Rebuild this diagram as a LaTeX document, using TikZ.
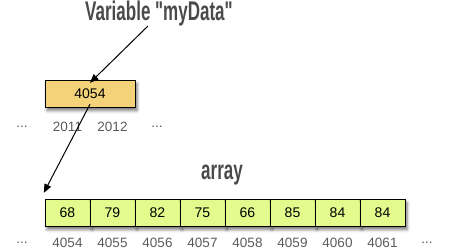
\documentclass[tikz,border=0pt]{standalone}
\usepackage{fontspec}
\setmainfont{Liberation Sans}
\newfontfamily\titlefont{Liberation Sans}[Ligatures=ResetAll]
\usepackage{tikz}
\usetikzlibrary{arrows,shadows.blur}
\definecolor{ptrfill}{HTML}{F4D27A}
\definecolor{cellfill}{HTML}{E2FB8C}
\definecolor{labgray}{HTML}{4A4A4A}
\definecolor{addrgray}{HTML}{5A5A5A}

\begin{document}
\begin{tikzpicture}[x=1pt,y=-1pt,>=triangle 45,
	cell/.style={draw=black,inner sep=0pt,minimum width=45pt,minimum height=27pt,font=\fontsize{14}{14}\selectfont},
	boxshadow/.style={blur shadow={shadow xshift=2pt,shadow yshift=-3.5pt,shadow blur radius=3pt,shadow opacity=55}},
	addr/.style={text=addrgray,font=\fontsize{13.5}{14}\selectfont},
	title/.style={text=labgray,font=\titlefont\fontsize{27}{27}\bfseries\selectfont}]
	\useasboundingbox (0,0) rectangle (450,251);
	\node [title] (varname) at (159,14) {\scalebox{0.63}[1]{Variable "myData"}};
	\coordinate (vtail) at (148,26);
	\node [cell,fill=ptrfill,minimum width=90pt,boxshadow] (ptr) at (90,93.5) {4054};
	\node [addr] (m1) at (67.5,127) {2011};
	\node [addr] (m2) at (112.5,127) {2012};
	\node [addr] (d1) at (22,127) {...};
	\node [addr] (d2) at (157,127) {...};
	\node [title] (arrname) at (222,175) {\scalebox{0.63}[1]{array}};
	\foreach \v [count=\i] in {68,79,82,75,66,85,84,84} {
		\node [cell,fill=cellfill,boxshadow] (c\i) at (22.5+45*\i,212.5) {\v};
		\node [addr] (a\i) at (22.5+45*\i,243) {\number\numexpr4053+\i\relax};
	}
	\node [addr] (d3) at (22,243) {...};
	\node [addr] (d4) at (427,243) {...};
	\draw [->,line width=1pt] (vtail) -- ([yshift=-3pt]ptr.north);
	\draw [->,line width=1pt] ([yshift=3pt]ptr.south) -- ([shift={(-1pt,6pt)}]c1.north west);
\end{tikzpicture}
\end{document}
